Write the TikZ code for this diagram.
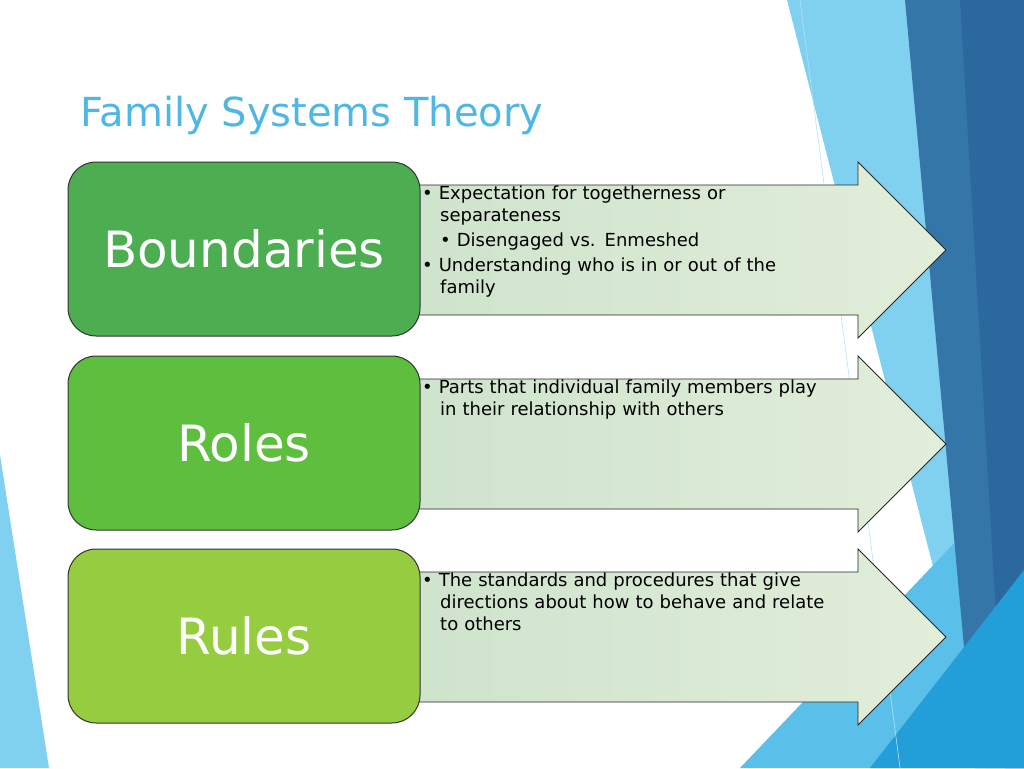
\documentclass[tikz,border=0pt]{standalone}
\usepackage{fontspec}
\setmainfont{DejaVu Sans}
\definecolor{cyl}{RGB}{128,208,240}
\definecolor{cym}{RGB}{90,192,234}
\definecolor{db1}{RGB}{52,118,168}
\definecolor{db2}{RGB}{42,104,158}
\definecolor{bb}{RGB}{34,158,216}
\definecolor{ttl}{RGB}{78,183,227}
\definecolor{g1}{RGB}{76,174,80}
\definecolor{g2}{RGB}{94,190,62}
\definecolor{g3}{RGB}{150,204,64}
\definecolor{ar1}{RGB}{206,227,204}
\definecolor{ar2}{RGB}{226,238,218}
\begin{document}
\begin{tikzpicture}[x=1pt,y=-1pt,
  gbox/.style={draw=black!80,line width=1pt,rounded corners=28pt,text=white,font=\fontsize{50}{56}\selectfont,minimum width=352pt,minimum height=174pt},
  arr/.style={draw=black!85,line width=0.8pt,left color=ar1,right color=ar2},
  btext/.style={anchor=north west,align=left,text width=440pt,font=\fontsize{18}{22}\selectfont,inner sep=0pt}]
\useasboundingbox (0,0) rectangle (1024,768);
\fill[white] (0,0) rectangle (1024,768);
% background decorations
\fill[cyl] (787,0) -- (1024,0) -- (1024,768) -- (985,768) -- cycle;
\fill[cym] (1024,470) -- (1024,768) -- (740,768) -- cycle;
\fill[db1] (905,0) -- (1024,0) -- (1024,768) -- (975,768) -- cycle;
\fill[db2] (960,0) -- (1024,0) -- (1024,768) -- (1005,768) -- cycle;
\fill[bb] (1024,570) -- (1024,768) -- (870,768) -- cycle;
\draw[cyl!60!white,line width=0.6pt] (800,0) -- (900,768);
\fill[cyl] (0,455) -- (0,768) -- (49,768) -- cycle;
% title
\node[anchor=base west,text=ttl,font=\fontsize{40}{48}\selectfont,inner sep=0pt] (title) at (80,126) {Family Systems Theory};
% arrows
\foreach \t in {162,356,549}{
  \draw[arr] (395,\t+23) -- (858,\t+23) -- (858,\t) -- (946,\t+88) -- (858,\t+176) -- (858,\t+153) -- (395,\t+153) -- cycle;
}
% boxes
\node[gbox,fill=g1] (bnd) at (244,249) {Boundaries};
\node[gbox,fill=g2] (rol) at (244,443) {Roles};
\node[gbox,fill=g3] (rul) at (244,636) {Rules};
% texts
\node[btext] (t1) at (422,186) {• Expectation for togetherness or\\\hspace*{18pt}separateness\\[3pt]
\hspace*{18pt}• Disengaged vs. Enmeshed\\[3pt]
• Understanding who is in or out of the\\\hspace*{18pt}family};
\node[btext] (t2) at (422,380) {• Parts that individual family members play\\\hspace*{18pt}in their relationship with others};
\node[btext] (t3) at (422,573) {• The standards and procedures that give\\\hspace*{18pt}directions about how to behave and relate\\\hspace*{18pt}to others};
\end{tikzpicture}
\end{document}
